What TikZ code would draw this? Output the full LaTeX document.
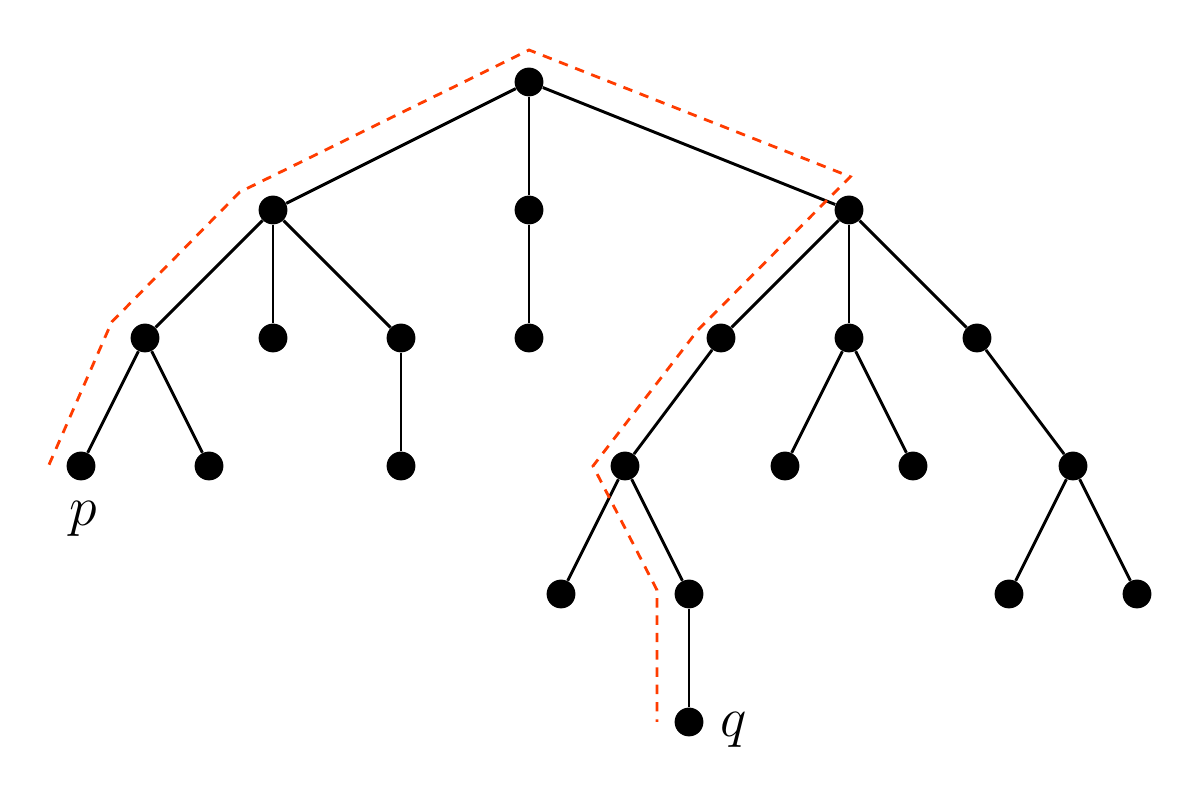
\documentclass[tikz,border=0pt]{standalone}
\usetikzlibrary{positioning}
\definecolor{pathred}{RGB}{255,60,0}
\begin{document}
\begin{tikzpicture}[vertex/.style={circle,fill,inner sep=0pt,minimum size=0.45cm},
    edge/.style={line width=1.3pt},
    route/.style={pathred,line width=1.25pt,dash pattern=on 4.2pt off 3.5pt},
    lbl/.style={font=\fontsize{27}{30}\selectfont}]
    \useasboundingbox (-8.266,-11.203) rectangle (10.484,1.281);
    % raiz y primer nivel
    \node[vertex] (r) at (0,0) {};
    \node[vertex] (a) at (-4,-2) {};
    \node[vertex] (b) at (0,-2) {};
    \node[vertex] (c) at (5,-2) {};
    % segundo nivel
    \node[vertex] (a1) at (-6,-4) {};
    \node[vertex] (a2) at (-4,-4) {};
    \node[vertex] (a3) at (-2,-4) {};
    \node[vertex] (b1) at (0,-4) {};
    \node[vertex] (c1) at (3,-4) {};
    \node[vertex] (c2) at (5,-4) {};
    \node[vertex] (c3) at (7,-4) {};
    % tercer nivel
    \node[vertex] (p) at (-7,-6) {};
    \node[vertex] (a12) at (-5,-6) {};
    \node[vertex] (a31) at (-2,-6) {};
    \node[vertex] (c11) at (1.5,-6) {};
    \node[vertex] (c21) at (4,-6) {};
    \node[vertex] (c22) at (6,-6) {};
    \node[vertex] (c31) at (8.5,-6) {};
    % cuarto y quinto nivel
    \node[vertex] (c111) at (0.5,-8) {};
    \node[vertex] (c112) at (2.5,-8) {};
    \node[vertex] (c311) at (7.5,-8) {};
    \node[vertex] (c312) at (9.5,-8) {};
    \node[vertex] (q) at (2.5,-10) {};
    \node[lbl,below=0.2cm of p,xshift=0.03cm] (pl) {$p$};
    \node[lbl,right=0.14cm of q,yshift=-0.12cm] (ql) {$q$};
    \draw[edge] (r) -- (a);
    \draw[edge] (r) -- (b);
    \draw[edge] (r) -- (c);
    \draw[edge] (a) -- (a1);
    \draw[edge] (a) -- (a2);
    \draw[edge] (a) -- (a3);
    \draw[edge] (b) -- (b1);
    \draw[edge] (c) -- (c1);
    \draw[edge] (c) -- (c2);
    \draw[edge] (c) -- (c3);
    \draw[edge] (a1) -- (p);
    \draw[edge] (a1) -- (a12);
    \draw[edge] (a3) -- (a31);
    \draw[edge] (c1) -- (c11);
    \draw[edge] (c2) -- (c21);
    \draw[edge] (c2) -- (c22);
    \draw[edge] (c3) -- (c31);
    \draw[edge] (c11) -- (c111);
    \draw[edge] (c11) -- (c112);
    \draw[edge] (c31) -- (c311);
    \draw[edge] (c31) -- (c312);
    \draw[edge] (c112) -- (q);
    % camino de p a q
    \draw[route] (-7.5,-5.98) -- (-6.52,-3.75) -- (-4.52,-1.72) -- (0,0.5)
        -- (5.02,-1.48) -- (2.64,-3.875) -- (1.0,-6.0) -- (2.0,-7.94) -- (2.0,-10);
\end{tikzpicture}
\end{document}
